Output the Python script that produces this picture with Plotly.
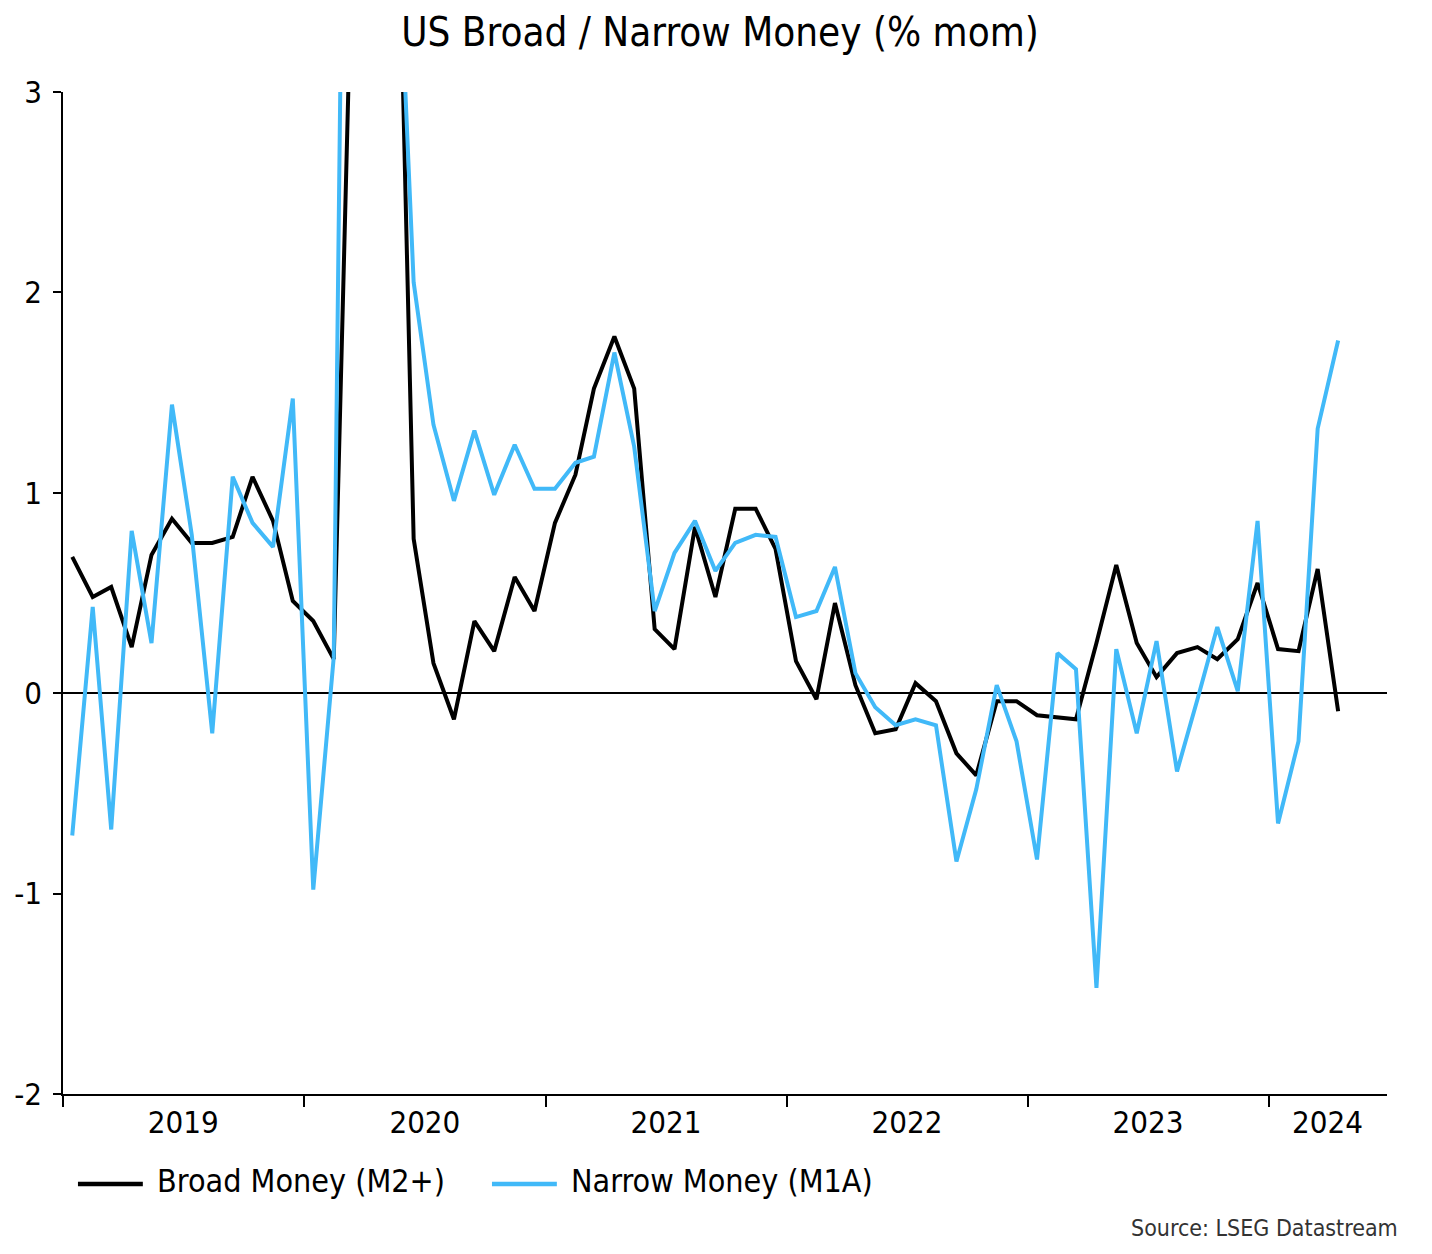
import pandas as pd
import plotly.graph_objects as go

# monthly observations, plotted mid-month
months = pd.date_range("2019-01-01", "2024-04-01", freq="MS") + pd.Timedelta(days=14)

broad_money = [
    0.68, 0.48, 0.53, 0.23, 0.69, 0.87, 0.75, 0.75, 0.78, 1.08, 0.86, 0.46,
    0.36, 0.17, 3.9, 5.5, 5.1, 0.77, 0.15, -0.13, 0.36, 0.21, 0.58, 0.41,
    0.85, 1.09, 1.52, 1.78, 1.52, 0.32, 0.22, 0.83, 0.48, 0.92, 0.92, 0.72,
    0.16, -0.03, 0.45, 0.04, -0.20, -0.18, 0.05, -0.04, -0.30, -0.41, -0.04, -0.04,
    -0.11, -0.12, -0.13, 0.25, 0.64, 0.25, 0.08, 0.20, 0.23, 0.17, 0.27, 0.55,
    0.22, 0.21, 0.62, -0.09,
]
narrow_money = [
    -0.71, 0.43, -0.68, 0.81, 0.25, 1.44, 0.79, -0.20, 1.08, 0.85, 0.73, 1.47,
    -0.98, 0.18, 8.5, 9.0, 4.4, 2.05, 1.34, 0.96, 1.31, 0.99, 1.24, 1.02,
    1.02, 1.15, 1.18, 1.70, 1.23, 0.41, 0.70, 0.86, 0.61, 0.75, 0.79, 0.78,
    0.38, 0.41, 0.63, 0.10, -0.07, -0.16, -0.13, -0.16, -0.84, -0.48, 0.04, -0.24,
    -0.83, 0.20, 0.12, -1.47, 0.22, -0.20, 0.26, -0.39, -0.03, 0.33, 0.01, 0.86,
    -0.65, -0.24, 1.32, 1.76,
]
y_ticks = [-2, -1, 0, 1, 2, 3]
y_labels = ["-2", "-1", "0", "1", "2", "3"]
# year labels sit in the middle of each (visible) year
year_label_dates = ["2019-07-02", "2020-07-02", "2021-07-02", "2022-07-02",
                    "2023-07-02", "2024-03-30"]
year_labels = ["2019", "2020", "2021", "2022", "2023", "2024"]

FONT = "DejaVu Sans Condensed, sans-serif"
BLACK = "#000000"
BLUE = "#41B9F8"

fig = go.Figure()
fig.add_trace(go.Scatter(x=months, y=broad_money, mode="lines", name="Broad Money (M2+)",
                         line=dict(color=BLACK, width=4), showlegend=False))
fig.add_trace(go.Scatter(x=months, y=narrow_money, mode="lines", name="Narrow Money (M1A)",
                         line=dict(color=BLUE, width=4), showlegend=False))

# legend drawn by hand so the line samples are long like the original
legend_items = [("Broad Money (M2+)", BLACK, 0.0113), ("Narrow Money (M1A)", BLUE, 0.324)]
for label, color, x0 in legend_items:
    fig.add_shape(type="line", xref="paper", yref="paper", x0=x0, x1=x0 + 0.049,
                  y0=-0.0898, y1=-0.0898, line=dict(color=color, width=4.5))
    fig.add_annotation(text=label, xref="paper", yref="paper", x=x0 + 0.058, y=-0.0868,
                       xanchor="left", yanchor="middle", showarrow=False,
                       font=dict(family=FONT, size=32, color="black"))

fig.add_annotation(text="Source: LSEG Datastream", xref="paper", yref="paper",
                   x=1.0098, y=-0.1337, xanchor="right", yanchor="middle", showarrow=False,
                   font=dict(family=FONT, size=23, color="#333333"))

# page body adds an 8px margin, so the figure is 8px smaller than the window
fig.update_layout(
    width=1424, height=1246,
    margin=dict(l=55, r=45, t=84, b=160),
    paper_bgcolor="white", plot_bgcolor="white",
    font=dict(family=FONT, size=31, color="black"),
    title=dict(text="US Broad / Narrow Money (% mom)", x=0.5, xanchor="center",
               y=0.981, yanchor="middle", font=dict(family=FONT, size=40, color="black")),
)
fig.update_xaxes(
    range=["2019-01-01", "2024-06-28"], automargin=False,
    tickmode="array", tickvals=year_label_dates, ticktext=year_labels, ticks="",
    minor=dict(ticks="outside", ticklen=11, tickwidth=1.5, tickcolor="black",
               dtick="M12", tick0="2019-01-01", showgrid=False),
    showline=True, linecolor="black", linewidth=1.5,
    showgrid=False, zeroline=False,
)
fig.update_yaxes(
    range=[-2, 3], automargin=False, tickmode="array", tickvals=y_ticks, ticktext=y_labels,
    ticks="outside", ticklen=8, tickwidth=1.5,
    tickcolor="black", showline=True, linecolor="black", linewidth=1.5,
    showgrid=False, zeroline=True, zerolinecolor="black", zerolinewidth=1.5,
    ticklabelstandoff=5,
)

fig.write_html("out.html")
